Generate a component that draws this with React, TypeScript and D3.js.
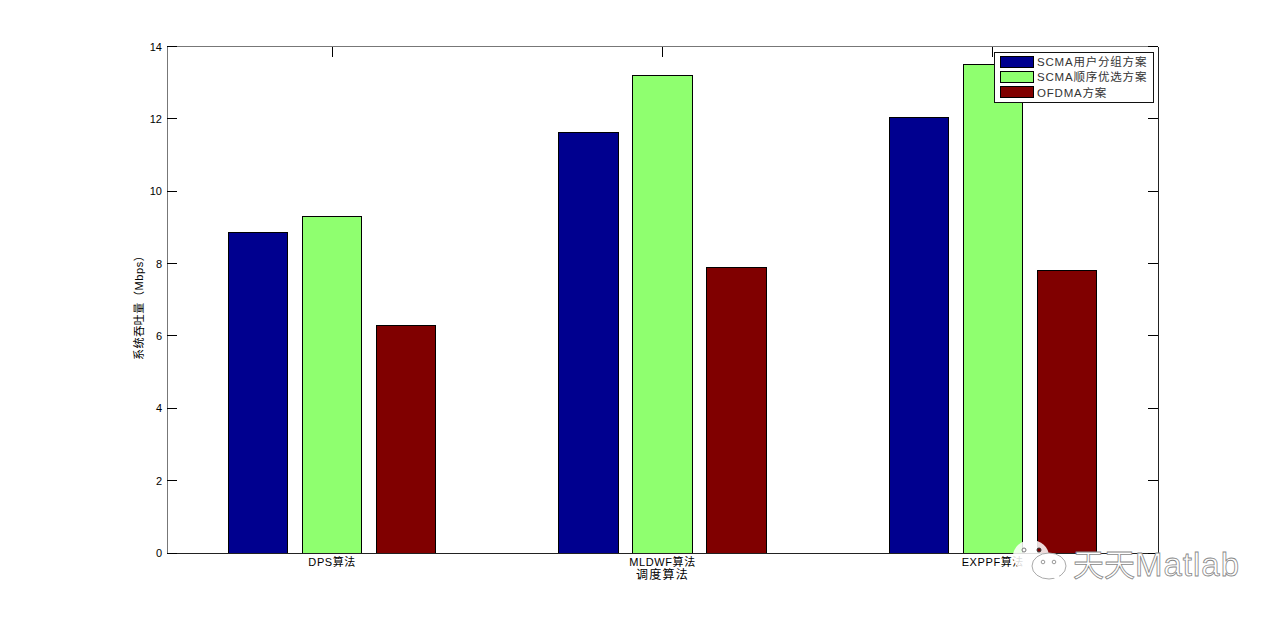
import React, { useEffect, useRef } from 'react';
import * as d3 from 'd3';

const groups = ['DPS算法', 'MLDWF算法', 'EXPPF算法'];
const seriesNames = ['SCMA用户分组方案', 'SCMA顺序优选方案', 'OFDMA方案'];
const seriesColors = ['#00008f', '#8fff6f', '#800000'];
const scmaGroup = [8.85, 11.63, 12.03];
const scmaOrder = [9.3, 13.2, 13.5];
const ofdma = [6.3, 7.9, 7.8];
const seriesValues = [scmaGroup, scmaOrder, ofdma];
const yTicks = [0, 2, 4, 6, 8, 10, 12, 14];

const FONT = '"Liberation Sans", "Noto Sans CJK SC", sans-serif';
const AXIS = { left: 167, right: 1158, top: 46.6, bottom: 553 };

const App: React.FC = () => {
  const svgRef = useRef<SVGSVGElement>(null);

  useEffect(() => {
    if (!svgRef.current) return;
    const svg = d3.select(svgRef.current);
    svg.selectAll('*').remove();
    svg.style('font-family', FONT);

    const x = d3.scaleBand<string>().domain(groups).range([AXIS.left, AXIS.right]);
    const y = d3.scaleLinear().domain([0, 14]).range([AXIS.bottom, AXIS.top]);
    const inner = d3.scaleBand<number>()
      .domain([0, 1, 2])
      .range([-103.75, 103.75])
      .paddingInner(0.196);

    const line = (x1: number, y1: number, x2: number, y2: number, color: string) =>
      svg.append('line')
        .attr('x1', x1).attr('y1', y1).attr('x2', x2).attr('y2', y2)
        .attr('stroke', color)
        .attr('shape-rendering', 'crispEdges');

    // Bottom ticks sit behind the middle bars
    groups.forEach((g) => {
      const cx = x(g)! + x.bandwidth() / 2;
      line(cx, AXIS.bottom - 10, cx, AXIS.bottom, '#000');
    });

    // Bars
    seriesValues.forEach((values, s) => {
      svg.append('g')
        .selectAll('rect')
        .data(values)
        .enter()
        .append('rect')
        .attr('x', (_, i) => x(groups[i])! + x.bandwidth() / 2 + inner(s)!)
        .attr('y', (d) => y(d))
        .attr('width', inner.bandwidth())
        .attr('height', (d) => AXIS.bottom - y(d))
        .attr('fill', seriesColors[s])
        .attr('stroke', '#000')
        .attr('stroke-width', 1)
        .attr('shape-rendering', 'crispEdges');
    });

    // Axes box
    line(AXIS.left, AXIS.top, AXIS.right, AXIS.top, '#777');
    line(AXIS.left, AXIS.top, AXIS.left, AXIS.bottom, '#777');
    line(AXIS.right, AXIS.top, AXIS.right, AXIS.bottom, '#222');
    line(AXIS.left, AXIS.bottom, AXIS.right, AXIS.bottom, '#222');

    // Ticks
    yTicks.forEach((t) => {
      line(AXIS.left, y(t), AXIS.left + 10, y(t), '#000');
      line(AXIS.right - 10, y(t), AXIS.right, y(t), '#000');
      svg.append('text')
        .attr('x', AXIS.left - 5)
        .attr('y', y(t) + 4)
        .attr('text-anchor', 'end')
        .attr('font-size', 11)
        .attr('fill', '#000')
        .text(t);
    });

    groups.forEach((g) => {
      const cx = x(g)! + x.bandwidth() / 2;
      line(cx, AXIS.top, cx, AXIS.top + 10, '#000');
      svg.append('text')
        .attr('x', cx)
        .attr('y', 566)
        .attr('text-anchor', 'middle')
        .attr('font-size', 11)
        .attr('letter-spacing', 0.6)
        .attr('fill', '#000')
        .text(g);
    });

    // Axis titles
    svg.append('text')
      .attr('x', x(groups[1])! + x.bandwidth() / 2)
      .attr('y', 579)
      .attr('text-anchor', 'middle')
      .attr('font-size', 12)
      .attr('letter-spacing', 1.2)
      .attr('fill', '#000')
      .text('调度算法');

    svg.append('text')
      .attr('transform', `translate(143,${(AXIS.top + AXIS.bottom) / 2 + 5}) rotate(-90)`)
      .attr('text-anchor', 'middle')
      .attr('font-size', 11)
      .attr('letter-spacing', 0.6)
      .attr('fill', '#000')
      .text('系统吞吐量（Mbps）');

    // Legend
    const legend = svg.append('g').attr('transform', 'translate(994,52)');
    legend.append('rect')
      .attr('width', 159.5)
      .attr('height', 50)
      .attr('fill', '#fff')
      .attr('stroke', '#111')
      .attr('shape-rendering', 'crispEdges');

    seriesNames.forEach((name, i) => {
      const row = legend.append('g').attr('transform', `translate(0,${4 + i * 15.3})`);
      row.append('rect')
        .attr('x', 6)
        .attr('width', 33)
        .attr('height', 11)
        .attr('fill', seriesColors[i])
        .attr('stroke', '#000')
        .attr('shape-rendering', 'crispEdges');
      row.append('text')
        .attr('x', 43)
        .attr('y', 10)
        .attr('font-size', 11.5)
        .attr('letter-spacing', 0.8)
        .attr('fill', '#333')
        .text(name);
    });

    // Watermark
    const mark = svg.append('g');
    const bubble = (cx: number, cy: number, rx: number, ry: number, tail: string, fill: string, stroke: string) => {
      mark.append('ellipse')
        .attr('cx', cx).attr('cy', cy).attr('rx', rx).attr('ry', ry)
        .attr('fill', fill).attr('stroke', stroke);
      mark.append('path').attr('d', tail).attr('fill', fill).attr('stroke', 'none');
    };
    bubble(1031, 556, 18, 16, 'M1022,566 L1018,574 L1033,570 Z', 'rgba(255,255,255,0.86)', 'none');
    mark.append('circle').attr('cx', 1024).attr('cy', 550).attr('r', 2).attr('fill', '#fff').attr('stroke', '#777');
    mark.append('circle').attr('cx', 1039).attr('cy', 550).attr('r', 2).attr('fill', '#800000').attr('stroke', '#333');
    bubble(1049, 566, 17, 13, 'M1053,577 L1060,584 L1059,575 Z', '#fff', '#aaa');
    mark.append('circle').attr('cx', 1043).attr('cy', 562).attr('r', 1.8).attr('fill', '#fff').attr('stroke', '#999');
    mark.append('circle').attr('cx', 1054).attr('cy', 562).attr('r', 1.8).attr('fill', '#fff').attr('stroke', '#999');
    const label = mark.append('text')
      .attr('x', 1073)
      .attr('y', 576)
      .attr('fill', '#fff')
      .attr('stroke', '#888')
      .attr('stroke-width', 0.8);
    label.append('tspan').attr('font-size', 31).text('天天');
    label.append('tspan').attr('font-size', 33).attr('letter-spacing', 1).text('Matlab');
  }, []);

  return (
    <svg
      ref={svgRef}
      width={1280}
      height={621}
      style={{ position: 'absolute', left: 0, top: 0, background: '#fff' }}
    />
  );
};

export default App;
